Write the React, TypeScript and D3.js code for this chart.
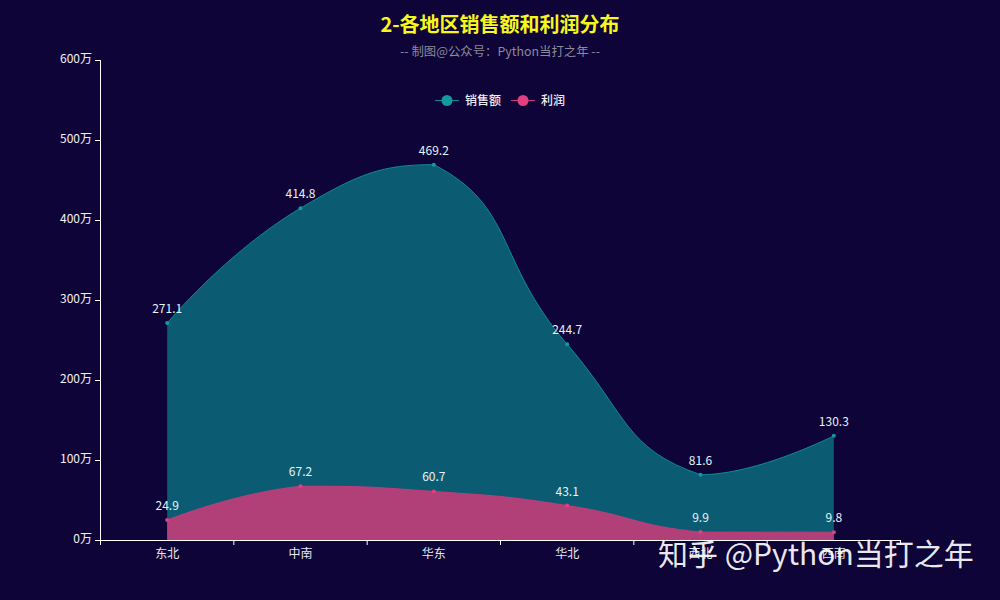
import React from "react";
import * as d3 from "d3";

const regions = ["东北", "中南", "华东", "华北", "西北", "西南"];
const sales = [271.1, 414.8, 469.2, 244.7, 81.6, 130.3];
const profit = [24.9, 67.2, 60.7, 43.1, 9.9, 9.8];
const yTicks = [0, 100, 200, 300, 400, 500, 600];
const FONT = "'Noto Sans CJK SC','Noto Sans',sans-serif";
const BG = "#0e0437";

const x = d3.scaleBand<string>().domain(regions).range([100.5, 900.5]);
const y = d3.scaleLinear().domain([0, 600]).range([540, 60]);
const cx = (i: number) => (x(regions[i]) as number) + x.bandwidth() / 2;

// Smooth curve factory: tangents follow the neighbouring points; control points are held inside the series' bounding box.
function smoothCurve(context: any) {
  let pts: [number, number][] = [];
  let inArea = false;
  let started = false;
  const smooth = 0.5;
  return {
    areaStart() { inArea = true; started = false; },
    areaEnd() { inArea = false; context.closePath(); },
    lineStart() { pts = []; },
    point(px: number, py: number) { pts.push([+px, +py]); },
    lineEnd() {
      const n = pts.length;
      if (!n) return;
      if (inArea && started) context.lineTo(pts[0][0], pts[0][1]);
      else context.moveTo(pts[0][0], pts[0][1]);
      started = true;
      const [minX, maxX] = d3.extent(pts, (p) => p[0]) as [number, number];
      const [minY, maxY] = d3.extent(pts, (p) => p[1]) as [number, number];
      const cX = (v: number) => Math.max(minX, Math.min(maxX, v));
      const cY = (v: number) => Math.max(minY, Math.min(maxY, v));
      let c0x = pts[0][0], c0y = pts[0][1];
      for (let i = 1; i < n; i++) {
        const [px, py] = pts[i];
        const [ax, ay] = pts[i - 1];
        if (i === n - 1) {
          context.bezierCurveTo(c0x, c0y, px, py, px, py);
          break;
        }
        const [nx, ny] = pts[i + 1];
        const vx = (nx - ax) * smooth, vy = (ny - ay) * smooth;
        const dp = Math.hypot(px - ax, py - ay);
        const dn = Math.hypot(nx - px, ny - py);
        const sum = dp + dn || 1;
        const c1x = cX(px - (vx * dp) / sum);
        const c1y = cY(py - (vy * dp) / sum);
        context.bezierCurveTo(c0x, c0y, c1x, c1y, px, py);
        c0x = cX(px + (vx * dn) / sum);
        c0y = cY(py + (vy * dn) / sum);
      }
    },
  };
}

const line = d3.line<number>().x((_, i) => cx(i)).y((d) => y(d)).curve(smoothCurve as any);
const area = d3.area<number>().x((_, i) => cx(i)).y0(y(0)).y1((d) => y(d)).curve(smoothCurve as any);

const seriesList = [
  { name: "销售额", values: sales, stroke: "#0f8a94", fill: "#0b5c72", dot: "#149a9c", label: "#e6f4f6" },
  { name: "利润", values: profit, stroke: "#c23c7c", fill: "#b04077", dot: "#e23f80", label: "#e6f4f6" },
];

export default function App() {
  const ticksX = d3.range(regions.length + 1).map((i) => 100.5 + i * x.bandwidth());
  return (
    <svg width={1000} height={600} style={{ position: "absolute", left: 0, top: 0, background: BG }} fontFamily={FONT}>
      <text x={500} y={32} textAnchor="middle" fontSize={20} fontWeight={700} fill="#f7f71e">2-各地区销售额和利润分布</text>
      <text x={500} y={56} textAnchor="middle" fontSize={12.4} fill="#8a8a9c">-- 制图@公众号：Python当打之年 --</text>

      {seriesList.map((s) => (
        <g key={s.name}>
          <path d={area(s.values) as string} fill={s.fill} />
          <path d={line(s.values) as string} fill="none" stroke={s.stroke} strokeWidth={1} />
          {s.values.map((v, i) => (
            <g key={i}>
              <circle cx={cx(i)} cy={y(v)} r={2} fill={s.dot} />
              <text x={cx(i)} y={y(v) - 10} textAnchor="middle" fontSize={12} fill={s.label}>{v}</text>
            </g>
          ))}
        </g>
      ))}

      <g stroke="#fff" strokeWidth={1}>
        <line x1={100.5} x2={100.5} y1={60} y2={545} />
        <line x1={100} x2={900} y1={540.5} y2={540.5} />
        {yTicks.map((t) => (
          <line key={t} x1={95} x2={100} y1={y(t) + 0.5} y2={y(t) + 0.5} />
        ))}
        {ticksX.map((t) => (
          <line key={t} x1={t} x2={t} y1={540} y2={545} />
        ))}
      </g>
      {yTicks.map((t) => (
        <text key={t} x={92} y={y(t) + 3} textAnchor="end" fontSize={12} fill="#f2f2f6">{t}万</text>
      ))}
      {regions.map((r, i) => (
        <text key={r} x={cx(i)} y={558} textAnchor="middle" fontSize={12} fill="#e8e8f0">{r}</text>
      ))}

      {seriesList.map((s, i) => {
        const lx = i === 0 ? 447 : 523;
        const tx = i === 0 ? 465 : 541;
        return (
          <g key={s.name}>
            <line x1={lx - 12} x2={lx + 12} y1={100.5} y2={100.5} stroke={s.stroke} strokeWidth={1} />
            <circle cx={lx} cy={100.5} r={5.5} fill={s.dot} />
            <text x={tx} y={104.5} fontSize={12} fontWeight={500} fill="#eeeef6">{s.name}</text>
          </g>
        );
      })}

      <text x={658} y={565} fontSize={30} fill="#ffffff" fillOpacity={0.92} fontFamily="'Noto Sans CJK SC',sans-serif">知乎 @Python当打之年</text>
    </svg>
  );
}
